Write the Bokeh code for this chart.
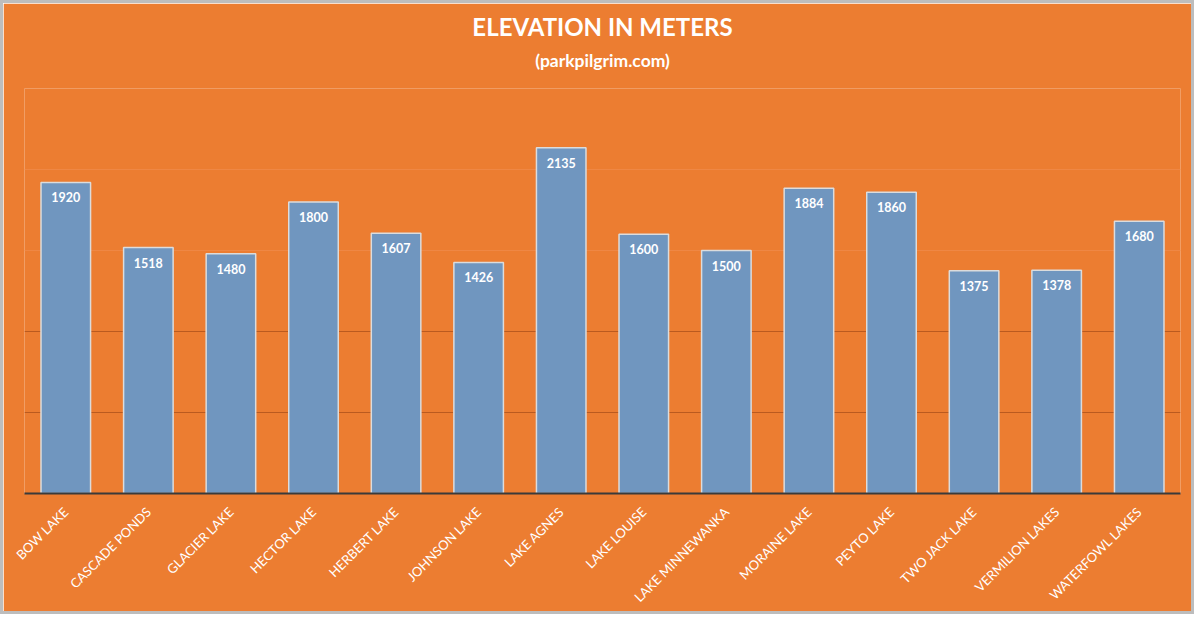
from math import pi

from bokeh.embed import file_html
from bokeh.resources import INLINE
from bokeh.plotting import figure
from bokeh.models import ColumnDataSource, LabelSet, Title, Grid, FixedTicker, Range1d
from bokeh.core.properties import value

lakes = ["BOW LAKE", "CASCADE PONDS", "GLACIER LAKE", "HECTOR LAKE", "HERBERT LAKE",
         "JOHNSON LAKE", "LAKE AGNES", "LAKE LOUISE", "LAKE MINNEWANKA", "MORAINE LAKE",
         "PEYTO LAKE", "TWO JACK LAKE", "VERMILION LAKES", "WATERFOWL LAKES"]
elevation = [1920, 1518, 1480, 1800, 1607, 1426, 2135, 1600, 1500, 1884, 1860, 1375, 1378, 1680]
dark_grid = [500, 1000]
light_grid = [1500, 2000, 2500]

ORANGE = "#EC7D31"
BAR = "#7096BF"
FONT = "Lato"

src = ColumnDataSource(dict(lake=lakes, elev=elevation, txt=[str(v) for v in elevation]))

p = figure(x_range=lakes, width=1194, height=614, output_backend="svg",
           toolbar_location=None, min_border_left=21, min_border_right=17,
           min_border_top=85, min_border_bottom=124)
p.y_range = Range1d(0, 2500)
p.x_range.range_padding = 0
p.styles = {"border": "3px solid #BDBDBD"}

p.background_fill_color = ORANGE
p.border_fill_color = ORANGE
p.outline_line_color = None

p.xgrid.visible = False
p.ygrid.visible = False
p.add_layout(Grid(dimension=1, ticker=FixedTicker(ticks=light_grid),
                  grid_line_color="#EF8744", grid_line_width=1))
p.add_layout(Grid(dimension=1, ticker=FixedTicker(ticks=dark_grid),
                  grid_line_color="#BA5A1F", grid_line_width=1.2))

p.vbar(x="lake", top="elev", width=0.6, source=src, fill_color=BAR,
       line_color="#DCDCDC", line_width=1.5)

p.add_layout(LabelSet(x="lake", y="elev", text="txt", source=src, y_offset=-10,
                      text_align="center", text_baseline="top", text_color="white",
                      text_font=value(FONT), text_font_style="bold", text_font_size="12.5px"))

p.yaxis.visible = False
ax = p.xaxis[0]
ax.axis_line_color = "#3A3A3A"
ax.axis_line_width = 2
ax.major_tick_line_color = None
ax.minor_tick_line_color = None
ax.major_label_orientation = pi / 4
ax.major_label_text_color = "white"
ax.major_label_text_font = FONT
ax.major_label_text_font_size = "13px"
ax.major_label_standoff = 10

sub = Title(text="(parkpilgrim.com)", align="center", text_color="white",
            text_font=FONT, text_font_style="bold", text_font_size="17.5px", standoff=35)
main = Title(text="ELEVATION IN METERS", align="center", text_color="white",
             text_font=FONT, text_font_style="bold", text_font_size="24px", standoff=-20)
p.add_layout(sub, "above")
p.add_layout(main, "above")

open("out.html", "w").write(file_html(p, INLINE))
